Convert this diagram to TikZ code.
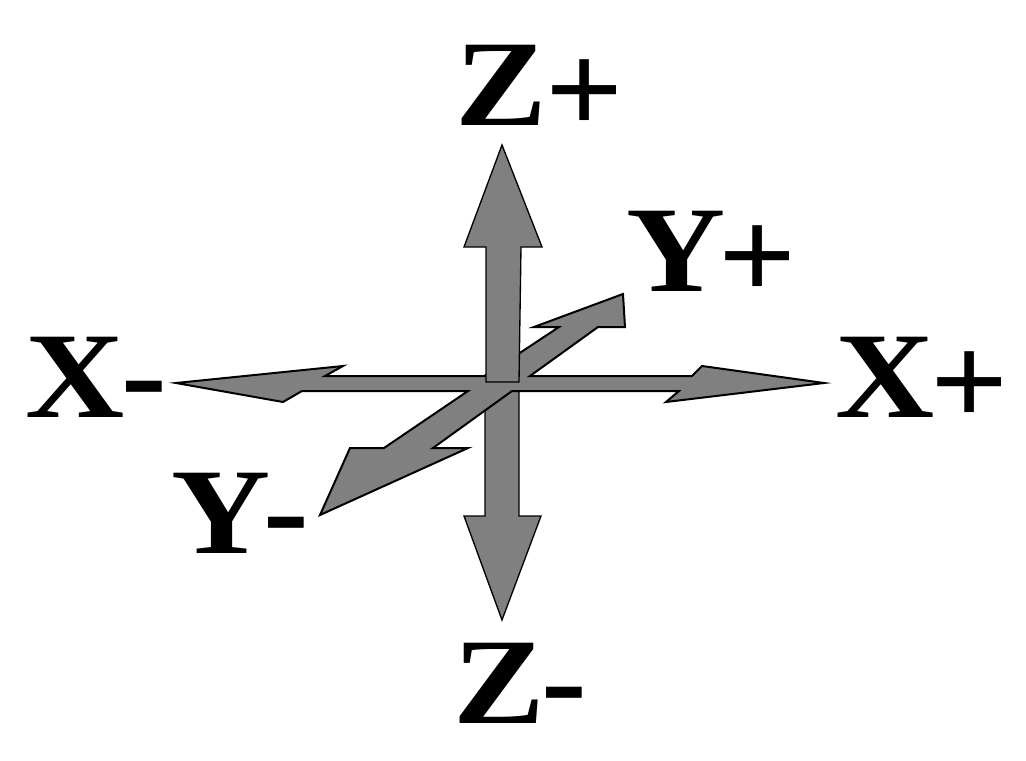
\documentclass[tikz,border=0pt]{standalone}
\usepackage{fontspec}
\setmainfont{Liberation Serif}
\newfontfamily\letterfont[FakeStretch=1.12]{Liberation Serif Bold}
\newfontfamily\signfont[FakeStretch=1.05]{Liberation Serif Bold}
\newcommand{\axisplus}[2]{{\letterfont #1}\kern#2\raisebox{-6pt}{\fontsize{98}{98}\signfont +}}
\newcommand{\axisminus}[2]{{\letterfont #1}\kern#2{\fontsize{98}{98}\signfont -}}
\definecolor{arrowgrey}{RGB}{128,128,128}
\tikzset{
  axisshape/.style={fill=arrowgrey,draw=black,line width=1.5pt,line join=miter,miter limit=10},
  zshape/.style={axisshape,line width=1pt},
  axislabel/.style={font=\fontsize{92}{92}\selectfont,inner sep=0pt,outer sep=0pt,anchor=base west}
}
\begin{document}
\begin{tikzpicture}[x=0.75pt,y=-0.75pt]
\useasboundingbox (0,0) rectangle (1026,761);
% Z- arrow (lowest layer)
\draw[zshape] (519,375) -- (519,516) -- (541,516) -- (502,620) -- (464,516) -- (485,516) -- (485,375) -- cycle;
% X and Y arrows form one outline
\draw[axisshape] (623,294) -- (625,327) -- (598,327) -- (530,376) -- (692,376) -- (702,366) -- (824,383)
  -- (666,402) -- (679,391) -- (512,391) -- (433,448) -- (468,448) -- (320,515) -- (350,448) -- (384,448)
  -- (468,391) -- (302,391) -- (283,402) -- (176,383) -- (343,366) -- (325,376) -- (485,376) -- (559,327)
  -- (534,327) -- cycle;
% Z+ arrow (top layer)
\draw[zshape] (502,145) -- (542,247) -- (521,247) -- (519,382) -- (486,382) -- (486,247) -- (464,247) -- cycle;
\node[axislabel] (zplus) at (455,125) {\axisplus{Z}{-1pt}};
\node[axislabel] (yplus) at (626,291) {\axisplus{Y}{-5pt}};
\node[axislabel] (xminus) at (26,417) {\axisminus{X}{-3pt}};
\node[axislabel] (xplus) at (835,417) {\axisplus{X}{-3pt}};
\node[axislabel] (yminus) at (171,553) {\axisminus{Y}{-5pt}};
\node[axislabel] (zminus) at (453,723) {\axisminus{Z}{-2pt}};
\end{tikzpicture}
\end{document}
